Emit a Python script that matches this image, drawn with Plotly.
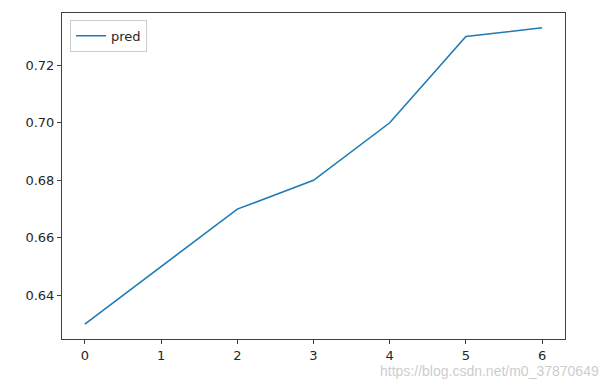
import plotly.graph_objects as go

x_vals = [0, 1, 2, 3, 4, 5, 6]
pred = [0.630, 0.650, 0.670, 0.680, 0.700, 0.730, 0.733]
x_ticks = [0, 1, 2, 3, 4, 5, 6]
y_ticks = [0.64, 0.66, 0.68, 0.70, 0.72]
y_tick_labels = ["0.64", "0.66", "0.68", "0.70", "0.72"]

fig = go.Figure()
fig.add_trace(go.Scatter(x=x_vals, y=pred, mode="lines", name="pred",
                         line=dict(color="#1f7ab5", width=1.6)))

font = dict(family="DejaVu Sans", size=13, color="#262626")
fig.update_layout(
    width=603, height=372,
    margin=dict(l=54, r=46, t=5, b=41),
    paper_bgcolor="white", plot_bgcolor="white",
    font=font,
    showlegend=True,
    legend=dict(x=0.016, y=0.979, xanchor="left", yanchor="top",
                bgcolor="white", bordercolor="#cccccc", borderwidth=1,
                itemwidth=30, tracegroupgap=0,
                font=dict(family="DejaVu Sans", size=13, color="#262626")),
    xaxis=dict(range=[-0.3, 6.3], tickvals=x_ticks, showgrid=False, zeroline=False,
               showline=True, linecolor="#404040", linewidth=1, mirror=True,
               ticks="outside", ticklen=4, tickcolor="#404040"),
    yaxis=dict(range=[0.62485, 0.73815], tickvals=y_ticks, ticktext=y_tick_labels,
               showgrid=False, zeroline=False,
               showline=True, linecolor="#404040", linewidth=1, mirror=True,
               ticks="outside", ticklen=4, tickcolor="#404040"),
    annotations=[dict(text="https://blog.csdn.net/m0_37870649", xref="paper", yref="paper",
                      x=1.0716, y=-0.098, xanchor="right", yanchor="middle", showarrow=False,
                      font=dict(family="Liberation Sans", size=14, color="rgba(195,195,195,0.85)"))],
)

fig.write_html("out.html")
